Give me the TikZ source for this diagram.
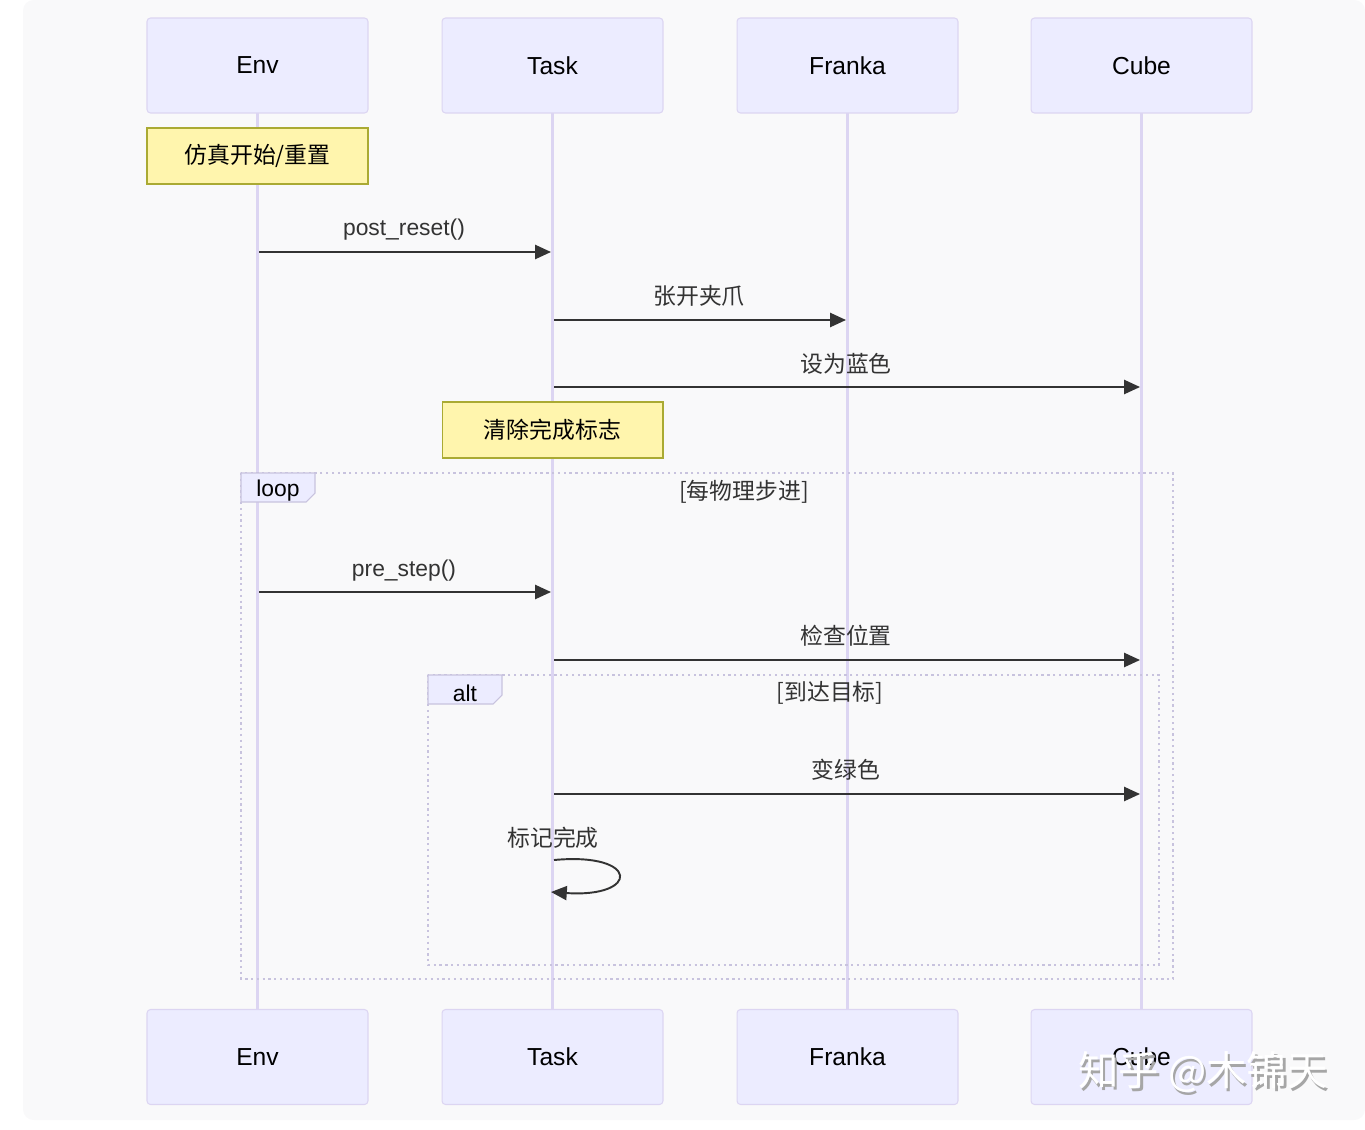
\documentclass[tikz,border=0pt]{standalone}
\usepackage{fontspec}
\setmainfont{Liberation Sans}
\newfontfamily\cjk{Noto Sans CJK SC}
\usetikzlibrary{arrows.meta}
\definecolor{actorfill}{HTML}{ECECFF}
\definecolor{actorline}{HTML}{DCD5F2}
\definecolor{notefill}{HTML}{FFF5AD}
\definecolor{noteline}{HTML}{AAAA33}
\definecolor{msgline}{HTML}{333333}
\definecolor{boxline}{HTML}{C8C3DE}
\definecolor{bgfill}{HTML}{F9F9FA}
\tikzset{
  actor/.style={draw=actorline, fill=actorfill, rounded corners=2pt, line width=0.6pt,
    minimum width=4.42cm, minimum height=1.9cm, font=\fontsize{14}{16}\selectfont},
  notebox/.style={draw=noteline, fill=notefill, line width=0.6pt,
    minimum width=4.42cm, minimum height=1.12cm, font=\cjk\fontsize{13}{15}\selectfont},
  life/.style={draw=actorline, line width=1.7pt},
  msg/.style={draw=msgline, line width=1.1pt, -{Triangle[length=9pt, width=8pt]}},
  msglabel/.style={font=\fontsize{13}{15}\selectfont, text=msgline},
  cjklabel/.style={msglabel, font=\cjk\fontsize{13}{15}\selectfont},
  frame/.style={draw=boxline, line width=1.5pt, dash pattern=on 1.3pt off 2pt},
  tab/.style={draw=boxline, fill=actorfill, line width=0.6pt}
}
\begin{document}
\begin{tikzpicture}[x=0.02cm, y=-0.02cm]
  \useasboundingbox (0,0) rectangle (1365,1129);
  \fill[bgfill, rounded corners=6pt] (23,0) rectangle (1365,1120);
  % lifelines
  \foreach \name/\xx in {env/257.5, task/552.5, franka/847.5, cube/1141.5}{
    \coordinate (\name top) at (\xx,113);
    \coordinate (\name bot) at (\xx,1009);
    \draw[life] (\name top) -- (\name bot);
  }
  % actors
  \node[actor] (envT)    at (257.5,65.5)  {Env};
  \node[actor] (taskT)   at (552.5,65.5)  {Task};
  \node[actor] (frankaT) at (847.5,65.5)  {Franka};
  \node[actor] (cubeT)   at (1141.5,65.5) {Cube};
  \node[actor] (envB)    at (257.5,1057)  {Env};
  \node[actor] (taskB)   at (552.5,1057)  {Task};
  \node[actor] (frankaB) at (847.5,1057)  {Franka};
  \node[actor] (cubeB)   at (1141.5,1057) {Cube};
  % notes
  \node[notebox] (reset) at (257.5,156) {仿真开始/重置};
  \node[notebox] (clear) at (552.5,430) {清除完成标志};
  % loop and alt frames
  \draw[frame] (241,473) rectangle (1173,979);
  \draw[tab] (241,473) -- (315,473) -- (315,493) -- (306,502) -- (241,502) -- cycle;
  \node[msglabel, text=black] (looplbl) at (278,491) {loop};
  \node[cjklabel] (loopcond) at (744,492) {[每物理步进]};
  \draw[frame] (428,675) rectangle (1159,965);
  \draw[tab] (428,675) -- (502,675) -- (502,695) -- (493,704) -- (428,704) -- cycle;
  \node[msglabel, text=black] (altlbl) at (465,693) {alt};
  \node[cjklabel] (altcond) at (830,693) {[到达目标]};
  % messages
  \coordinate (m1a) at (259,252);  \coordinate (m1b) at (551,252);
  \coordinate (m2a) at (554,320);  \coordinate (m2b) at (846,320);
  \coordinate (m3a) at (554,387);  \coordinate (m3b) at (1140,387);
  \coordinate (m4a) at (259,592);  \coordinate (m4b) at (551,592);
  \coordinate (m5a) at (554,660);  \coordinate (m5b) at (1140,660);
  \coordinate (m6a) at (554,794);  \coordinate (m6b) at (1140,794);
  \draw[msg] (m1a) -- (m1b);
  \draw[msg] (m2a) -- (m2b);
  \draw[msg] (m3a) -- (m3b);
  \draw[msg] (m4a) -- (m4b);
  \draw[msg] (m5a) -- (m5b);
  \draw[msg] (m6a) -- (m6b);
  \node[msglabel] (l1) at (404,230) {post\_reset()};
  \node[cjklabel] (l2) at (699,296) {张开夹爪};
  \node[cjklabel] (l3) at (846,364) {设为蓝色};
  \node[msglabel] (l4) at (404,571) {pre\_step()};
  \node[cjklabel] (l5) at (846,636) {检查位置};
  \node[cjklabel] (l6) at (846,770) {变绿色};
  % self message
  \coordinate (s1) at (554,860); \coordinate (s2) at (551,892);
  \draw[msg] (s1) .. controls (640,852) and (640,898) .. (s2);
  \node[cjklabel] (l7) at (553,838) {标记完成};
  % watermark
  \node[font=\cjk\fontsize{23}{26}\selectfont, text=gray!70] (wm0) at (1205.5,1074.5) {知乎 @木锦天};
  \node[font=\cjk\fontsize{23}{26}\selectfont, text=white] (wm) at (1203,1072) {知乎 @木锦天};
\end{tikzpicture}
\end{document}
